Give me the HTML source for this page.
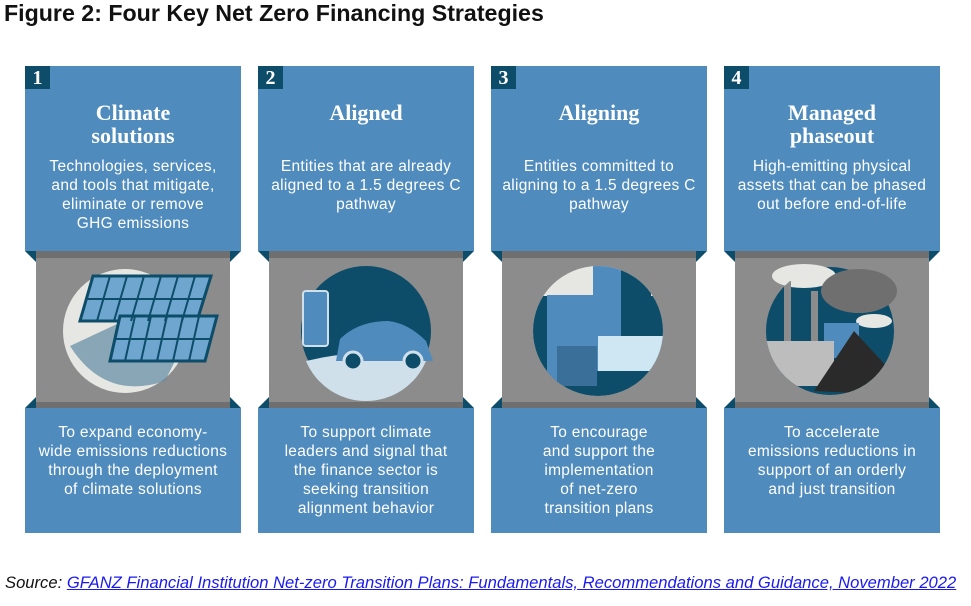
<!DOCTYPE html>
<html><head><meta charset="utf-8"><style>
body{margin:0;width:971px;height:606px;background:#fff;position:relative;overflow:hidden;font-family:"Liberation Sans",sans-serif}
.t{position:absolute;left:4px;top:0px;font-weight:bold;font-size:23.2px;color:#111;white-space:nowrap}
.col{position:absolute;top:66px;width:216px;height:467px}
.top{position:absolute;left:0;top:0;width:216px;height:185px;background:#4f8bbd}
.num{position:absolute;left:0;top:0;width:25px;height:23px;background:#0e4d69;color:#fff;font-family:"Liberation Serif",serif;font-weight:bold;font-size:20px;text-align:center;line-height:24px}
.h{position:absolute;left:0;width:216px;text-align:center;color:#fff;font-family:"Liberation Serif",serif;font-weight:bold;font-size:22px;line-height:23px}
.p{position:absolute;left:0;width:216px;text-align:center;color:#fff;font-size:15.5px;letter-spacing:0.3px;line-height:19px}
.mid{position:absolute;left:11px;top:185px;width:194px;height:157px;background:#8c8c8c;border-top:7px solid #6f6f6f;border-bottom:6px solid #6f6f6f;box-sizing:border-box}
.bot{position:absolute;left:0;top:342px;width:216px;height:125px;background:#4f8bbd}
.src{position:absolute;left:5px;top:573px;font-size:16.6px;font-style:italic;white-space:nowrap;color:#111}
.src a{color:#1a1aee;text-decoration:underline}
</style></head><body>
<div class="t">Figure 2: Four Key Net Zero Financing Strategies</div>

<div class="col" style="left:25px">
<div class="top"><div class="num">1</div>
<div class="h" style="top:35px">Climate<br>solutions</div>
<div class="p" style="top:91px">Technologies, services,<br>and tools that mitigate,<br>eliminate or remove<br>GHG emissions</div></div>
<div class="mid"></div>
<svg style="position:absolute;left:0;top:185px" width="216" height="157">
<polygon points="0,0 11,0 11,11" fill="#0e4d69"/><polygon points="216,0 205,0 205,11" fill="#0e4d69"/>
<polygon points="0,157 11,157 11,146" fill="#0e4d69"/><polygon points="216,157 205,157 205,146" fill="#0e4d69"/>
<circle cx="100" cy="80" r="62" fill="#e6e6e2"/>
<path d="M45 95 Q80 150 140 130 L160 90 L120 60Z" fill="#5f8aa3" opacity=".7"/>
<polygon points="68,25 186,25 172,70 55,70" fill="#6fa6cf" stroke="#0e4d69" stroke-width="3"/>
<polygon points="95,65 192,65 180,110 85,110" fill="#6fa6cf" stroke="#0e4d69" stroke-width="3"/>
<g stroke="#0e4d69" stroke-width="2"><line x1="60" y1="48" x2="180" y2="48"/><line x1="90" y1="88" x2="186" y2="88"/>
<line x1="85" y1="25" x2="72" y2="70"/><line x1="102" y1="25" x2="89" y2="70"/><line x1="119" y1="25" x2="106" y2="70"/><line x1="136" y1="25" x2="123" y2="70"/><line x1="153" y1="25" x2="140" y2="70"/><line x1="170" y1="25" x2="157" y2="70"/>
<line x1="110" y1="65" x2="100" y2="110"/><line x1="126" y1="65" x2="116" y2="110"/><line x1="142" y1="65" x2="132" y2="110"/><line x1="158" y1="65" x2="148" y2="110"/><line x1="174" y1="65" x2="164" y2="110"/></g>
</svg>
<div class="bot"><div class="p" style="top:15px">To expand economy-<br>wide emissions reductions<br>through the deployment<br>of climate solutions</div></div>
</div>

<div class="col" style="left:258px">
<div class="top"><div class="num">2</div>
<div class="h" style="top:35px">Aligned</div>
<div class="p" style="top:91px">Entities that are already<br>aligned to a 1.5 degrees C<br>pathway</div></div>
<div class="mid"></div>
<svg style="position:absolute;left:0;top:185px" width="216" height="157">
<polygon points="0,0 11,0 11,11" fill="#0e4d69"/><polygon points="216,0 205,0 205,11" fill="#0e4d69"/>
<polygon points="0,157 11,157 11,146" fill="#0e4d69"/><polygon points="216,157 205,157 205,146" fill="#0e4d69"/>
<circle cx="108" cy="80" r="65" fill="#0e4d69"/>
<path d="M48 110 Q108 95 168 110 A65 65 0 0 1 48 110Z" fill="#cfe0ea"/>
<rect x="45" y="40" width="25" height="55" rx="3" fill="#4f8bbd" stroke="#cfe0ea" stroke-width="2"/>
<path d="M78 110 L82 88 Q100 70 130 70 Q150 72 168 90 L175 110Z" fill="#4f8bbd"/>
<circle cx="95" cy="110" r="9" fill="#0e4d69" stroke="#cfe0ea" stroke-width="3"/><circle cx="155" cy="110" r="9" fill="#0e4d69" stroke="#cfe0ea" stroke-width="3"/>
</svg>
<div class="bot"><div class="p" style="top:15px">To support climate<br>leaders and signal that<br>the finance sector is<br>seeking transition<br>alignment behavior</div></div>
</div>

<div class="col" style="left:491px">
<div class="top"><div class="num">3</div>
<div class="h" style="top:35px">Aligning</div>
<div class="p" style="top:91px">Entities committed to<br>aligning to a 1.5 degrees C<br>pathway</div></div>
<div class="mid"></div>
<svg style="position:absolute;left:0;top:185px" width="216" height="157">
<polygon points="0,0 11,0 11,11" fill="#0e4d69"/><polygon points="216,0 205,0 205,11" fill="#0e4d69"/>
<polygon points="0,157 11,157 11,146" fill="#0e4d69"/><polygon points="216,157 205,157 205,146" fill="#0e4d69"/>
<defs><clipPath id="c3"><circle cx="107" cy="80" r="65"/></clipPath></defs>
<circle cx="107" cy="80" r="65" fill="#e6e6e2"/>
<g clip-path="url(#c3)">
<rect x="30" y="45" width="160" height="120" fill="#0e4d69"/>
<rect x="102" y="10" width="55" height="110" fill="#4f8bbd"/>
<rect x="130" y="14" width="30" height="100" fill="#0e4d69"/>
<rect x="56" y="44" width="50" height="90" fill="#4f8bbd"/>
<rect x="107" y="85" width="80" height="35" fill="#cfe6f3"/>
<rect x="66" y="95" width="40" height="40" fill="#3a6f99"/>
</g>
</svg>
<div class="bot"><div class="p" style="top:15px">To encourage<br>and support the<br>implementation<br>of net-zero<br>transition plans</div></div>
</div>

<div class="col" style="left:724px">
<div class="top"><div class="num">4</div>
<div class="h" style="top:35px">Managed<br>phaseout</div>
<div class="p" style="top:91px">High-emitting physical<br>assets that can be phased<br>out before end-of-life</div></div>
<div class="mid"></div>
<svg style="position:absolute;left:0;top:185px" width="216" height="157">
<polygon points="0,0 11,0 11,11" fill="#0e4d69"/><polygon points="216,0 205,0 205,11" fill="#0e4d69"/>
<polygon points="0,157 11,157 11,146" fill="#0e4d69"/><polygon points="216,157 205,157 205,146" fill="#0e4d69"/>
<defs><clipPath id="c4"><circle cx="106" cy="80" r="64"/></clipPath></defs>
<circle cx="106" cy="80" r="64" fill="#0e4d69"/>
<ellipse cx="80" cy="25" rx="32" ry="12" fill="#e6e6e2"/>
<ellipse cx="135" cy="40" rx="38" ry="22" fill="#6f6f6f"/>
<ellipse cx="150" cy="70" rx="18" ry="7" fill="#e6e6e2"/>
<g clip-path="url(#c4)">
<rect x="60" y="30" width="7" height="70" fill="#8c8c8c"/><rect x="87" y="40" width="7" height="60" fill="#8c8c8c"/>
<rect x="100" y="72" width="35" height="35" fill="#4f8bbd"/>
<rect x="40" y="90" width="70" height="45" fill="#bdbdbd"/>
<polygon points="90,140 130,80 190,145" fill="#2a2a2a"/>
</g>
</svg>
<div class="bot"><div class="p" style="top:15px">To accelerate<br>emissions reductions in<br>support of an orderly<br>and just transition</div></div>
</div>

<div class="src">Source: <a>GFANZ Financial Institution Net-zero Transition Plans: Fundamentals, Recommendations and Guidance, November 2022</a></div>
</body></html>
